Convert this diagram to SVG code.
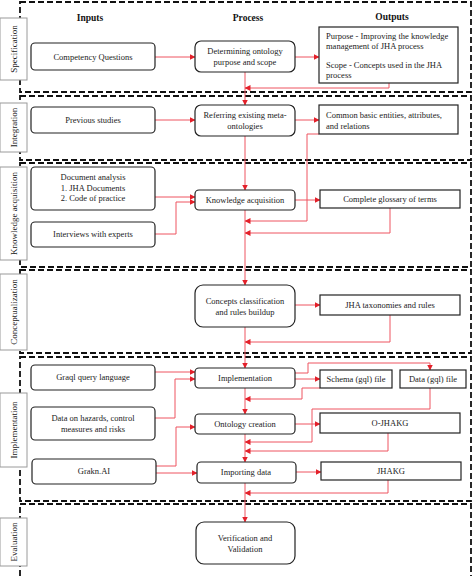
<svg xmlns="http://www.w3.org/2000/svg" width="474" height="576" viewBox="0 0 474 576">
<defs>
<marker id="ah" markerWidth="6" markerHeight="6" refX="5.5" refY="3" orient="auto" markerUnits="userSpaceOnUse">
<path d="M0,0 L6,3 L0,6 Z" fill="#e3202a"/>
</marker>
<style>
.phase{fill:none;stroke:#111;stroke-width:1.8;stroke-dasharray:6 3}
.lab{fill:#fff;stroke:#9a9a9a;stroke-width:1}
.labt{font-family:"Liberation Serif","Times New Roman",serif;font-size:9px;fill:#222;text-anchor:middle}
.hdr{font-family:"Liberation Serif","Times New Roman",serif;font-size:9.5px;font-weight:bold;fill:#111;text-anchor:middle}
.rn{fill:#fff;stroke:#222;stroke-width:1.2}
.t{font-family:"Liberation Serif","Times New Roman",serif;font-size:8.5px;fill:#222;text-anchor:middle}
.tl{font-family:"Liberation Serif","Times New Roman",serif;font-size:8.5px;fill:#222}
.ca{fill:none;stroke:#ee5560;stroke-width:1;marker-end:url(#ah)}
</style>
</defs>
<rect width="474" height="576" fill="#fff"/>

<g id="phases">
<rect class="phase" x="20" y="2" width="451" height="90"/>
<rect class="phase" x="20" y="96" width="451" height="64"/>
<rect class="phase" x="20" y="163" width="451" height="104"/>
<rect class="phase" x="20" y="270" width="451" height="83"/>
<rect class="phase" x="20" y="357" width="451" height="144"/>
<rect class="phase" x="20" y="504" width="451" height="80"/>
</g>

<g id="phase-labels">
<g id="lab-spec"><rect class="lab" x="0" y="18" width="27" height="62"/><text class="labt" transform="translate(17,49) rotate(-90)">Specification</text></g>
<g id="lab-int"><rect class="lab" x="0" y="103" width="27" height="49"/><text class="labt" transform="translate(17,127.5) rotate(-90)">Integration</text></g>
<g id="lab-ka"><rect class="lab" x="0" y="167" width="27" height="93"/><text class="labt" transform="translate(17,213.5) rotate(-90)">Knowledge acquisition</text></g>
<g id="lab-con"><rect class="lab" x="0" y="274" width="27" height="76"/><text class="labt" transform="translate(17,312) rotate(-90)">Conceptualization</text></g>
<g id="lab-imp"><rect class="lab" x="0" y="393" width="27" height="74"/><text class="labt" transform="translate(17,430) rotate(-90)">Implementation</text></g>
<g id="lab-eval"><rect class="lab" x="0" y="518" width="27" height="48"/><text class="labt" transform="translate(17,542) rotate(-90)">Evaluation</text></g>
</g>

<g id="headers">
<text class="hdr" x="90" y="21">Inputs</text>
<text class="hdr" x="248" y="21">Process</text>
<text class="hdr" x="392" y="20">Outputs</text>
</g>

<g id="connectors">
<path class="ca" d="M155,57 H195"/>
<path class="ca" d="M295,57 H319"/>
<path class="ca" d="M245,72 V105"/>
<path class="ca" d="M389,83 V88 H245"/>
<path class="ca" d="M155,120 H195"/>
<path class="ca" d="M295,120 H319"/>
<path class="ca" d="M245,136 V190"/>
<path class="ca" d="M319,134 H307 V221 H245"/>
<path class="ca" d="M155,197 H195"/>
<path class="ca" d="M155,234 H176 V202 H195"/>
<path class="ca" d="M295,200 H320"/>
<path class="ca" d="M390,208 V233 H245"/>
<path class="ca" d="M245,210 V285"/>
<path class="ca" d="M295,305 H320"/>
<path class="ca" d="M390,315 V342 H245"/>
<path class="ca" d="M245,327 V368"/>
<path class="ca" d="M155,372 H195"/>
<path class="ca" d="M155,418 H175 V379 H195"/>
<path class="ca" d="M295,379 H320"/>
<path class="ca" d="M295,373 H308 V363 H430 V370"/>
<path class="ca" d="M320,388 H302 V399 H245"/>
<path class="ca" d="M430,388 V409 H312 V442 H245"/>
<path class="ca" d="M245,388 V414"/>
<path class="ca" d="M295,424 H320"/>
<path class="ca" d="M388,433 V451 H245"/>
<path class="ca" d="M245,434 V462"/>
<path class="ca" d="M156,466 H176 V427 H195"/>
<path class="ca" d="M156,473 H197"/>
<path class="ca" d="M296,472 H321"/>
<path class="ca" d="M388,480 V493 H245"/>
<path class="ca" d="M245,483 V522"/>
</g>

<g id="n-cq"><rect class="rn" x="31" y="43" width="124" height="27" rx="4"/><text class="t" x="93" y="60">Competency Questions</text></g>
<g id="n-det"><rect class="rn" x="195" y="41" width="100" height="31" rx="6"/><text class="t" x="245" y="54">Determining  ontology</text><text class="t" x="245" y="65">purpose and scope</text></g>
<g id="n-purpose"><rect class="rn" x="319" y="27" width="139" height="56"/><text class="tl" x="326" y="39">Purpose - Improving  the knowledge</text><text class="tl" x="326" y="49">management  of JHA process</text><text class="tl" x="326" y="68">Scope - Concepts used in the JHA</text><text class="tl" x="326" y="78">process</text></g>

<g id="n-prev"><rect class="rn" x="31" y="107" width="124" height="26" rx="4"/><text class="t" x="93" y="123">Previous studies</text></g>
<g id="n-ref"><rect class="rn" x="195" y="105" width="100" height="31" rx="6"/><text class="t" x="245" y="118">Referring  existing  meta-</text><text class="t" x="245" y="129">ontologies</text></g>
<g id="n-common"><rect class="rn" x="319" y="105" width="139" height="29"/><text class="tl" x="326" y="118">Common basic entities,  attributes,</text><text class="tl" x="326" y="129">and relations</text></g>

<g id="n-doc"><rect class="rn" x="31" y="167" width="124" height="43" rx="4"/><text class="t" x="93" y="180">Document analysis</text><text class="t" x="93" y="191">1. JHA Documents</text><text class="t" x="93" y="201">2. Code of practice</text></g>
<g id="n-ka"><rect class="rn" x="195" y="190" width="100" height="20" rx="4"/><text class="t" x="245" y="203">Knowledge  acquisition</text></g>
<g id="n-gloss"><rect class="rn" x="320" y="190" width="140" height="18"/><text class="t" x="390" y="202">Complete glossary of terms</text></g>
<g id="n-int"><rect class="rn" x="31" y="222" width="124" height="25" rx="4"/><text class="t" x="93" y="237">Interviews  with  experts</text></g>

<g id="n-concepts"><rect class="rn" x="195" y="285" width="100" height="42" rx="8"/><text class="t" x="245" y="304">Concepts classification</text><text class="t" x="245" y="315">and rules buildup</text></g>
<g id="n-tax"><rect class="rn" x="320" y="295" width="140" height="20"/><text class="t" x="390" y="308">JHA taxonomies and rules</text></g>

<g id="n-graql"><rect class="rn" x="31" y="365" width="124" height="25" rx="4"/><text class="t" x="93" y="380">Graql query language</text></g>
<g id="n-implem"><rect class="rn" x="195" y="368" width="100" height="20" rx="4"/><text class="t" x="245" y="381">Implementation</text></g>
<g id="n-schema"><rect class="rn" x="320" y="370" width="72" height="18"/><text class="t" x="356" y="382">Schema (gql) file</text></g>
<g id="n-datafile"><rect class="rn" x="400" y="370" width="66" height="18"/><text class="t" x="433" y="382">Data (gql) file</text></g>
<g id="n-hazards"><rect class="rn" x="31" y="407" width="124" height="33" rx="4"/><text class="t" x="93" y="421">Data on hazards, control</text><text class="t" x="93" y="432">measures and risks</text></g>
<g id="n-onto"><rect class="rn" x="195" y="414" width="100" height="20" rx="4"/><text class="t" x="245" y="427">Ontology creation</text></g>
<g id="n-ojhakg"><rect class="rn" x="320" y="413" width="140" height="20"/><text class="t" x="390" y="426">O-JHAKG</text></g>
<g id="n-grakn"><rect class="rn" x="32" y="459" width="124" height="25" rx="4"/><text class="t" x="94" y="474">Grakn.AI</text></g>
<g id="n-import"><rect class="rn" x="197" y="462" width="99" height="21" rx="4"/><text class="t" x="246" y="475">Importing  data</text></g>
<g id="n-jhakg"><rect class="rn" x="321" y="462" width="140" height="18"/><text class="t" x="391" y="474">JHAKG</text></g>

<g id="n-verif"><rect class="rn" x="196" y="522" width="99" height="42" rx="8"/><text class="t" x="245" y="541">Verification  and</text><text class="t" x="245" y="552">Validation</text></g>
</svg>
